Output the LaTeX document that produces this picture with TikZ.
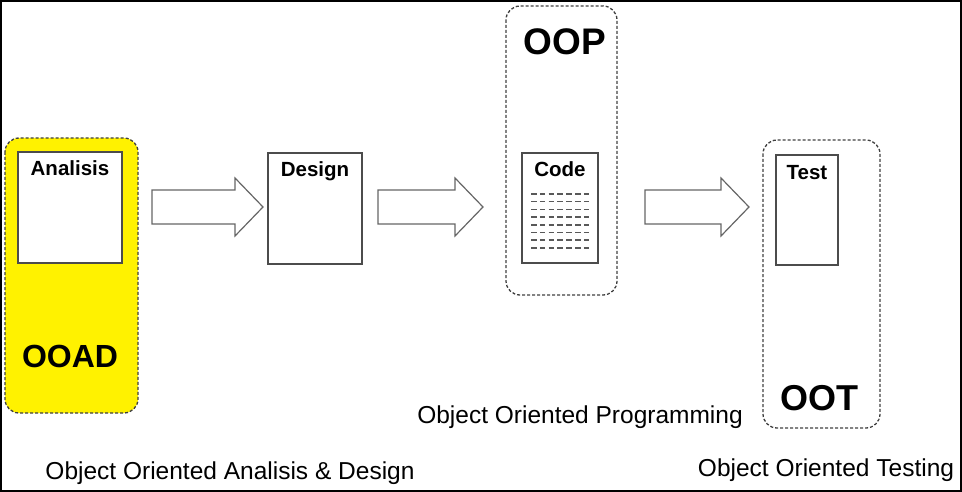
\documentclass[tikz,border=0pt]{standalone}
\usepackage{fontspec}
\setmainfont{Liberation Sans}
\begin{document}
\begin{tikzpicture}[x=1pt,y=-1pt,
  grp/.style={draw=black!75,densely dashed,line width=1.3pt,rounded corners=14pt},
  doc/.style={draw=black!70,line width=1.2pt,fill=white},
  lbl/.style={font=\bfseries\fontsize{20.5}{22}\selectfont,anchor=north},
  big/.style={font=\bfseries\fontsize{32}{36}\selectfont},
  captxt/.style={font=\fontsize{24.5}{28}\selectfont},
  arr/.style={draw=black!60,line width=1.2pt,fill=white}]
\useasboundingbox (0,0) rectangle (962,492);
\draw[line width=1.5pt] (1,1) rectangle (961,491);
% groups
\draw[grp,fill=yellow] (5,138) rectangle (138,413);
\draw[grp] (506,6) rectangle (617,295);
\draw[grp] (763,140) rectangle (880,428);
% documents
\node[doc,minimum width=104pt,minimum height=111pt] (ana) at (70,207.5) {};
\node[lbl] at (ana.north) [yshift=-6pt] {Analisis};
\node[doc,minimum width=94pt,minimum height=111pt] (des) at (315,208.5) {};
\node[lbl] at (des.north) [yshift=-6pt] {Design};
\node[doc,minimum width=76pt,minimum height=110pt] (code) at (560,208) {};
\node[lbl] at (code.north) [yshift=-6pt] {Code};
\foreach \r in {0,...,7}{
  \foreach \c in {0,...,6}{
    \draw[black!65,line width=1.6pt] ({531+\c*8.8},{194+\r*7.7}) -- ++(5.5,0);
  }}
\node[doc,minimum width=62pt,minimum height=110pt] (test) at (807,210) {};
\node[lbl] at (test.north) [yshift=-7pt] {Test};
% big labels
\node[big] (ooad) at (70,356) {OOAD};
\node[big,font=\bfseries\fontsize{37}{40}\selectfont] (oop) at (565,42) {OOP};
\node[big,font=\bfseries\fontsize{36}{40}\selectfont] (oot) at (819,398) {OOT};
% arrows
\foreach \xa/\xb in {152/263,378/483,645/749}{
  \draw[arr] (\xa,190) -- ({\xb-28},190) -- ({\xb-28},178) -- (\xb,207) -- ({\xb-28},236) -- ({\xb-28},224) -- (\xa,224) -- cycle;
}
% captions
\node[captxt] (c1) at (230,473) {Object Oriented Analisis \& Design};
\node[captxt] (c2) at (580,417) {Object Oriented Programming};
\node[captxt] (c3) at (826,470) {Object Oriented Testing};
\end{tikzpicture}
\end{document}
